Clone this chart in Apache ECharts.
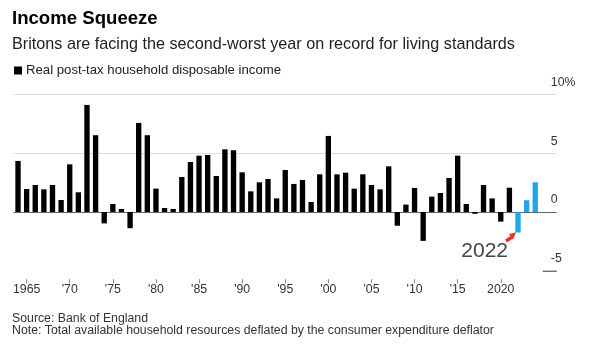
<!DOCTYPE html>
<html>
<head>
<meta charset="utf-8">
<script src="https://cdn.jsdelivr.net/npm/echarts@6/dist/echarts.min.js"></script>
<style>
  html, body { margin: 0; padding: 0; background: #fff; }
  #chart { width: 599px; height: 351px; }
</style>
</head>
<body>
<div id="chart"></div>
<script>
// 年份 1964 - 2024
const years = [
  1964, 1965, 1966, 1967, 1968, 1969, 1970, 1971, 1972, 1973,
  1974, 1975, 1976, 1977, 1978, 1979, 1980, 1981, 1982, 1983,
  1984, 1985, 1986, 1987, 1988, 1989, 1990, 1991, 1992, 1993,
  1994, 1995, 1996, 1997, 1998, 1999, 2000, 2001, 2002, 2003,
  2004, 2005, 2006, 2007, 2008, 2009, 2010, 2011, 2012, 2013,
  2014, 2015, 2016, 2017, 2018, 2019, 2020, 2021, 2022, 2023, 2024
];
// 实际税后家庭可支配收入 (% change)
const incomeGrowth = [
  4.35, 1.96, 2.3, 1.93, 2.3, 1.02, 4.06, 1.68, 9.12, 6.54,
  -0.97, 0.68, 0.26, -1.38, 7.59, 6.54, 1.99, 0.34, 0.26, 2.98,
  4.26, 4.8, 4.86, 3.07, 5.34, 5.26, 3.38, 1.76, 2.53, 2.81,
  1.16, 3.58, 2.39, 2.73, 0.85, 3.21, 6.48, 3.21, 3.35, 1.99,
  3.21, 2.3, 1.93, 3.89, -1.17, 0.63, 2.05, -2.46, 1.31, 1.62,
  2.9, 4.8, 0.68, -0.15, 2.3, 1.16, -0.82, 2.07, -1.75, 1.0, 2.53
];
// 从 2022 起为预测值（蓝色）
const forecastFrom = 2022;
// 右侧留白的空年份
const padYears = [2025, 2026];
// x 轴刻度
const tickYears = [1965, 1970, 1975, 1980, 1985, 1990, 1995, 2000, 2005, 2010, 2015, 2020];
const tickLabels = ['1965', "'70", "'75", "'80", "'85", "'90", "'95", "'00", "'05", "'10", "'15", '2020'];
// y 轴刻度
const yTicks = [-5, 0, 5, 10];
const yLabels = ['-5', '0', '5', '10%'];

const seriesName = 'Real post-tax household disposable income';
const font = '"Liberation Sans", Arial, sans-serif';

const categories = years.concat(padYears).map(String);
const isTick = (i, v) => tickYears.indexOf(Number(v)) >= 0;

const chart = echarts.init(document.getElementById('chart'));

let option = {
  animation: false,
  textStyle: { fontFamily: font },
  title: [
    {
      text: 'Income Squeeze',
      subtext: 'Britons are facing the second-worst year on record for living standards',
      left: 7,
      top: 4,
      itemGap: 9,
      textStyle: { fontFamily: font, fontSize: 18.6, fontWeight: 'bold', color: '#000' },
      subtextStyle: { fontFamily: font, fontSize: 16.2, color: '#222' }
    },
    {
      text: 'Source: Bank of England\nNote: Total available household resources deflated by the consumer expenditure deflator',
      left: 7,
      top: 308,
      textStyle: { fontFamily: font, fontSize: 12.3, fontWeight: 'normal', color: '#333', lineHeight: 12 }
    }
  ],
  legend: {
    data: [seriesName],
    left: 9,
    top: 59,
    icon: 'rect',
    itemWidth: 8,
    itemHeight: 8,
    itemGap: 5,
    textStyle: { fontFamily: font, fontSize: 13.2, color: '#222', padding: [0, 0, 0, -1] }
  },
  grid: {
    left: 13.7,
    right: 42.2,
    top: 94.6,
    bottom: 80.3,
    containLabel: false,
    outerBoundsMode: 'none'
  },
  xAxis: {
    type: 'category',
    data: categories,
    offset: 8.5,
    axisLine: { show: false, onZero: false },
    axisTick: {
      show: true,
      interval: isTick,
      alignWithLabel: true,
      length: 4,
      lineStyle: { color: '#888' }
    },
    axisLabel: {
      interval: isTick,
      margin: 4,
      fontFamily: font,
      fontSize: 12.3,
      color: '#333',
      formatter: v => tickLabels[tickYears.indexOf(Number(v))]
    },
    splitLine: { show: false }
  },
  yAxis: {
    type: 'value',
    position: 'right',
    min: -5,
    max: 10,
    interval: 5,
    axisLine: { show: false },
    axisTick: { show: false },
    axisLabel: {
      margin: -6,
      align: 'left',
      verticalAlign: 'bottom',
      padding: [0, 0, 6, 0],
      fontFamily: font,
      fontSize: 12.3,
      color: '#333',
      formatter: v => yLabels[yTicks.indexOf(v)]
    },
    splitLine: {
      show: true,
      lineStyle: { color: ['rgba(0,0,0,0)', '#666', '#ddd', '#ddd'], width: 1 }
    }
  },
  series: [
    {
      name: seriesName,
      type: 'bar',
      barCategoryGap: '38%',
      itemStyle: { color: '#000' },
      data: incomeGrowth.map((v, i) => ({
        value: v,
        itemStyle: { color: years[i] >= forecastFrom ? '#1fa5ea' : '#000' }
      }))
    }
  ]
};
chart.setOption(option);

// 注释 "2022" 及红色箭头，位置由坐标换算得到
const barPt = chart.convertToPixel({ gridIndex: 0 }, [String(forecastFrom), incomeGrowth[years.indexOf(forecastFrom)]]);
const minPt = chart.convertToPixel({ gridIndex: 0 }, [String(padYears[padYears.length - 1]), -5]);
const gridRight = minPt[0] + 4.3;
const bx = barPt[0], by = barPt[1];

chart.setOption({
  graphic: [
    {
      type: 'text',
      x: bx - 10,
      y: by + 19,
      style: {
        text: String(forecastFrom),
        align: 'right',
        verticalAlign: 'middle',
        font: '21px ' + font,
        fill: '#444'
      }
    },
    {
      type: 'line',
      shape: { x1: bx - 12, y1: by + 8.5, x2: bx - 6, y2: by + 4.5 },
      style: { stroke: '#e8302a', lineWidth: 3.5 }
    },
    {
      type: 'polygon',
      shape: { points: [[bx - 2, by], [bx - 9, by + 1.5], [bx - 5, by + 7]] },
      style: { fill: '#e8302a' }
    },
    {
      type: 'line',
      shape: { x1: gridRight - 14, y1: minPt[1] + 0.5, x2: gridRight, y2: minPt[1] + 0.5 },
      style: { stroke: '#333', lineWidth: 1 }
    }
  ]
});
</script>
</body>
</html>
